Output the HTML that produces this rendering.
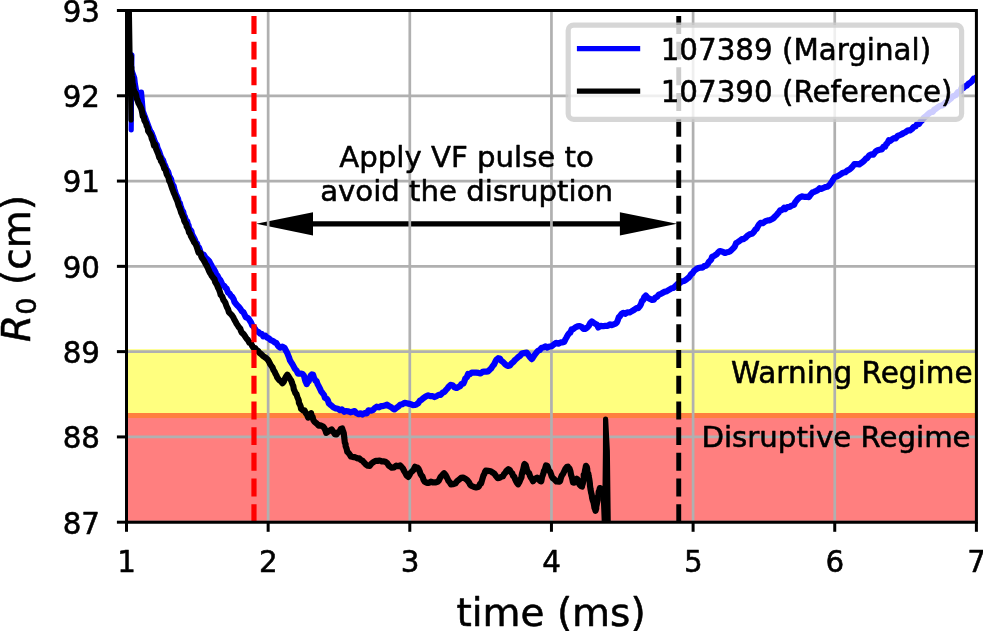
<!DOCTYPE html>
<html><head><meta charset="utf-8"><title>R0 vs time</title>
<style>
html,body{margin:0;padding:0;background:#fff;}
body{width:983px;height:631px;overflow:hidden;}
svg{display:block;font-family:"DejaVu Sans","Liberation Sans",sans-serif;}
text{fill:#000;stroke:#000;stroke-width:0.55px;stroke-linejoin:round;}
</style></head><body>
<svg width="983" height="631" viewBox="0 0 983 631">
<rect x="0" y="0" width="983" height="631" fill="#fff"/>
<defs><clipPath id="ax"><rect x="126.5" y="10.5" width="849.90" height="511.70"/></clipPath></defs>
<g clip-path="url(#ax)">
<rect x="121.5" y="349.2" width="859.90" height="68.80" fill="#ffff00" fill-opacity="0.5"/>
<rect x="121.5" y="413.0" width="859.90" height="117.00" fill="#ff0000" fill-opacity="0.5"/>
</g>
<g>
<line x1="300" y1="223.8" x2="632" y2="223.8" stroke="#000" stroke-width="5.3"/>
<polygon points="256.2,223.8 313.0,212.20000000000002 313.0,235.4" fill="#000"/>
<polygon points="677.0,223.8 619.9,212.20000000000002 619.9,235.4" fill="#000"/>
</g>
<g stroke="#b0b0b0" stroke-width="2.7" fill="none"><line x1="126.50" y1="10.5" x2="126.50" y2="522.2"/><line x1="268.15" y1="10.5" x2="268.15" y2="522.2"/><line x1="409.80" y1="10.5" x2="409.80" y2="522.2"/><line x1="551.45" y1="10.5" x2="551.45" y2="522.2"/><line x1="693.10" y1="10.5" x2="693.10" y2="522.2"/><line x1="834.75" y1="10.5" x2="834.75" y2="522.2"/><line x1="976.40" y1="10.5" x2="976.40" y2="522.2"/><line x1="126.5" y1="522.20" x2="976.4" y2="522.20"/><line x1="126.5" y1="436.92" x2="976.4" y2="436.92"/><line x1="126.5" y1="351.63" x2="976.4" y2="351.63"/><line x1="126.5" y1="266.35" x2="976.4" y2="266.35"/><line x1="126.5" y1="181.07" x2="976.4" y2="181.07"/><line x1="126.5" y1="95.78" x2="976.4" y2="95.78"/><line x1="126.5" y1="10.50" x2="976.4" y2="10.50"/></g>
<g clip-path="url(#ax)" fill="none" stroke-linejoin="round" stroke-linecap="round" stroke-width="5.2">
<path d="M126.5,80.0 L129.5,60.0 L131.9,54.8 L131.2,129.8 L131.8,70.0 L134.7,78.0 L135.4,84.0 L137.6,96.3 L139.9,103.0 L140.9,92.0 L141.5,92.0 L143.2,111.0 L151.1,132.2 L151.8,133.6 L152.4,135.3" stroke="#0000ff"/>
<path d="M151.1,132.2 L151.8,133.6 L152.4,135.3 L153.1,136.8 L154.1,139.9 L154.9,142.0 L155.8,143.8 L156.8,144.9 L157.6,148.4 L158.2,149.4 L159.3,152.0 L160.2,154.7 L160.9,156.8 L161.9,158.6 L163.0,160.3 L163.9,163.0 L164.4,164.3 L165.3,166.2 L166.2,168.6 L166.8,169.8 L168.0,171.6 L168.6,173.4 L169.2,176.1 L170.4,178.0 L171.0,179.0 L171.7,182.2 L172.6,184.7 L173.6,185.9 L174.4,189.3 L175.2,192.0 L175.6,193.3 L176.5,195.6 L177.2,197.2 L178.1,199.0 L178.7,202.4 L179.8,203.1 L180.7,206.8 L181.0,207.1 L182.1,210.5 L183.2,211.8 L183.8,215.0 L184.7,216.5 L185.5,219.2 L186.3,220.6 L187.2,221.4 L187.9,224.7 L188.5,225.1 L189.1,228.6 L190.4,229.9 L191.4,231.3 L192.0,234.3 L193.1,236.2 L194.1,238.1 L194.9,239.8 L195.9,242.7 L197.1,243.7 L197.8,246.9 L198.9,247.3 L199.8,249.8 L200.6,252.4 L202.1,254.3 L203.8,254.8 L205.3,257.4 L206.6,258.5 L208.1,259.9 L209.4,261.5 L210.4,263.6 L211.6,265.6 L212.6,268.1 L213.5,268.7 L214.8,270.9 L215.7,272.6 L216.2,275.6 L217.6,275.7 L219.0,278.7 L220.3,280.1 L221.4,282.4 L222.8,285.5 L224.1,285.8 L225.4,287.8 L226.6,288.4 L227.9,292.3 L229.6,293.7 L231.1,296.1 L232.1,296.7 L233.7,299.3 L234.5,302.0 L236.1,304.0 L237.4,305.6 L239.2,307.3 L240.4,308.9 L241.8,311.1 L243.5,312.3 L244.6,314.6 L245.8,317.2 L247.3,317.7 L248.7,318.9 L250.1,321.1 L250.9,322.2 L252.2,325.4 L253.3,326.3 L255.3,329.4 L256.6,331.1 L258.2,331.8 L260.3,333.7 L261.9,334.1 L263.3,336.4 L265.4,335.7 L267.0,337.5 L269.1,338.6 L270.8,340.2 L273.2,341.1 L274.7,342.4 L276.5,343.2 L278.0,345.8 L280.1,347.6 L282.4,346.7 L284.6,348.0 L286.4,351.5 L287.4,353.3 L288.3,355.6 L289.2,357.9 L290.0,360.5 L290.6,361.2 L291.1,362.3 L292.4,364.1 L293.6,366.4 L295.0,369.0 L296.6,370.7 L298.0,373.6 L300.7,373.6 L302.7,374.1 L303.9,375.7 L304.4,377.4 L305.4,381.2 L306.2,382.7 L306.7,384.1 L307.7,381.9 L308.7,381.3 L309.7,377.9 L310.8,375.5 L311.9,374.4 L313.1,374.8 L313.9,377.6 L315.4,380.6 L316.6,381.1 L317.6,384.2 L318.8,386.3 L319.7,388.1 L320.7,390.3 L321.3,391.5 L323.0,393.7 L324.0,394.9 L325.0,397.9 L326.9,399.0 L327.8,400.1 L328.9,403.5 L330.3,404.7 L331.4,405.5 L333.6,407.5 L335.7,408.4 L337.9,408.7 L340.0,410.2 L341.9,409.5 L344.3,411.8 L345.8,411.0 L348.3,411.3 L350.4,412.3 L352.4,411.7 L354.6,411.1 L356.3,413.0 L358.7,414.2 L360.4,413.3 L362.5,414.5 L364.4,413.2 L366.8,413.4 L368.4,410.3 L370.9,410.7 L372.9,410.1 L374.8,408.0 L376.7,406.7 L379.0,407.3 L380.9,406.2 L383.0,406.1 L385.0,405.6 L387.1,404.7 L388.8,405.9 L390.8,406.9 L392.7,408.5 L394.4,409.4 L396.2,408.1 L398.4,406.5 L400.2,404.8 L402.1,404.3 L404.5,402.8 L406.8,403.3 L408.3,403.6 L411.1,404.2 L412.7,405.1 L415.0,405.0 L416.6,404.3 L418.3,403.1 L419.9,400.5 L421.6,399.8 L423.4,398.1 L425.9,396.4 L428.2,395.4 L430.3,396.1 L432.7,396.1 L434.5,397.1 L436.9,395.9 L438.7,394.9 L440.6,394.8 L442.7,392.6 L444.5,391.8 L445.8,390.2 L447.5,388.4 L448.9,386.4 L450.5,384.9 L452.5,385.2 L454.5,387.3 L456.6,388.0 L458.6,386.8 L460.2,386.1 L461.5,384.0 L463.4,383.5 L464.4,381.2 L465.3,378.5 L466.9,377.1 L468.0,374.0 L469.6,374.5 L471.8,372.5 L473.9,372.7 L476.1,372.6 L478.5,372.9 L480.7,373.5 L482.6,371.9 L484.3,371.6 L486.3,371.7 L487.9,371.4 L490.0,369.4 L491.3,368.3 L492.5,366.2 L494.1,364.4 L495.3,361.8 L496.3,359.9 L498.2,358.2 L499.8,358.5 L501.2,360.7 L503.1,362.0 L504.9,364.0 L506.3,365.1 L508.0,365.9 L510.0,365.5 L511.6,363.3 L513.4,361.8 L515.3,359.7 L517.0,358.2 L518.6,356.7 L520.2,355.8 L521.8,353.6 L523.9,353.1 L526.7,352.6 L528.7,355.3 L530.2,357.4 L531.8,359.1 L532.8,357.8 L533.8,356.1 L535.0,354.5 L536.8,352.2 L538.1,350.6 L539.7,350.1 L541.5,347.8 L543.2,347.5 L545.6,346.4 L547.4,347.6 L549.5,346.5 L551.6,346.2 L553.8,344.6 L556.2,342.8 L558.3,343.7 L560.7,342.4 L562.8,342.3 L564.2,341.8 L565.6,339.0 L566.5,337.5 L567.6,335.4 L569.3,333.0 L570.2,332.8 L571.6,329.3 L573.2,329.1 L575.4,327.3 L577.5,326.4 L579.6,326.0 L581.8,327.0 L583.5,328.8 L585.5,328.8 L587.3,327.5 L588.7,326.0 L590.2,323.2 L591.9,321.4 L593.7,322.7 L595.6,324.0 L597.0,324.6 L598.3,327.5 L600.8,325.9 L603.1,326.2 L605.2,325.9 L607.7,325.8 L609.9,324.4 L611.6,325.2 L613.7,324.3 L615.6,323.6 L616.7,322.7 L617.7,320.5 L618.8,317.3 L619.9,316.2 L621.3,314.1 L623.2,312.8 L625.1,313.8 L627.3,312.4 L629.5,312.5 L631.5,311.4 L633.9,310.0 L636.4,308.1 L638.1,308.2 L639.7,306.3 L641.0,304.1 L642.1,300.8 L643.2,300.3 L644.3,297.1 L645.8,295.5 L648.0,298.0 L650.4,299.1 L652.1,300.0 L653.9,299.7 L655.2,297.6 L657.1,296.9 L658.8,294.7 L660.9,293.9 L662.8,292.8 L665.1,291.5 L666.8,291.3 L669.0,289.8 L671.5,288.3 L673.4,288.0 L675.7,285.9 L677.8,283.8 L680.1,282.8 L681.7,281.4 L684.1,281.0 L686.3,279.4 L688.1,278.1 L689.4,276.9 L691.1,274.3 L692.5,273.2 L693.9,271.1 L695.8,269.5 L698.1,268.1 L700.0,267.7 L702.4,267.7 L704.2,266.1 L706.0,265.7 L707.7,264.1 L708.7,262.1 L710.1,260.8 L711.2,259.5 L712.1,256.8 L714.5,255.7 L716.8,254.2 L718.2,252.4 L719.9,251.0 L722.6,251.7 L724.9,253.0 L726.8,252.3 L728.5,252.0 L730.4,251.1 L732.4,249.1 L733.3,248.2 L734.7,246.6 L736.1,243.2 L737.2,242.5 L739.3,241.1 L741.8,239.2 L743.7,239.1 L745.1,238.1 L746.4,236.9 L747.8,235.4 L750.2,234.1 L752.0,233.8 L754.2,231.5 L755.3,229.7 L756.5,228.9 L757.7,226.7 L759.1,224.4 L760.6,222.8 L762.7,223.2 L765.4,221.2 L767.9,220.4 L769.6,220.4 L771.3,219.4 L773.1,218.5 L775.0,216.5 L776.5,215.1 L777.5,213.7 L779.0,212.2 L780.1,210.4 L781.8,210.1 L784.0,207.9 L785.1,209.1 L787.4,207.1 L789.7,206.9 L791.6,205.6 L794.1,204.8 L795.1,202.4 L796.3,200.9 L798.0,198.8 L799.5,197.5 L801.7,196.4 L803.9,196.8 L806.5,196.8 L808.9,197.2 L810.4,194.8 L812.6,192.4 L814.1,191.8 L815.7,191.1 L817.8,190.1 L819.7,188.1 L821.2,189.0 L823.3,188.0 L825.3,187.1 L827.1,186.8 L828.9,185.6 L830.3,183.8 L832.0,181.5 L833.1,179.8 L834.6,177.2 L836.8,176.6 L838.9,175.4 L841.1,174.0 L842.8,172.7 L845.2,172.3 L847.2,170.6 L849.5,169.5 L850.9,168.2 L852.6,166.5 L854.4,164.1 L856.6,164.0 L859.3,164.3 L861.7,162.7 L863.5,161.3 L864.8,160.0 L866.2,158.3 L867.1,158.3 L869.1,155.5 L871.1,154.4 L873.3,154.7 L875.6,151.5 L877.7,150.3 L879.7,149.7 L881.8,149.5 L883.4,146.7 L885.1,146.7 L886.2,144.1 L887.4,143.3 L888.8,140.2 L890.5,140.8 L891.7,139.7 L894.0,138.2 L895.7,138.4 L897.8,135.7 L899.5,135.3 L901.2,134.5 L903.6,133.0 L905.7,132.1 L908.1,130.3 L910.0,130.3 L912.0,129.0 L913.6,127.0 L915.5,126.4 L916.8,124.5 L919.0,123.9 L920.6,121.6 L922.3,120.1 L923.9,117.8 L925.7,116.4 L927.7,114.5 L929.3,113.1 L931.0,112.0 L932.6,112.0 L934.3,109.6 L935.7,108.9 L937.7,107.3 L939.7,106.0 L941.9,105.5 L943.9,104.3 L945.7,102.4 L947.6,101.2 L949.2,99.7 L951.2,98.2 L952.9,96.3 L954.6,95.6 L956.0,94.9 L957.8,92.2 L960.3,91.3 L961.6,87.9 L963.3,88.1 L964.8,86.6 L966.9,85.5 L968.5,83.7 L970.2,82.8 L971.9,81.3 L973.7,78.7 L975.3,78.9 L977.3,76.7 L979.2,76.2 L981.3,75.2 L982.8,72.4 L985.5,71.8 L987.0,70.0" stroke="#0000ff" stroke-width="6.2"/>
<path d="M126.5,70.0 L129.0,-12.0 L131.0,120.0 L130.6,56.0 L130.9,57.9 L130.9,59.5" stroke="#000"/>
<path d="M130.6,56.0 L130.9,57.9 L130.9,59.5 L130.8,62.3 L131.0,66.0 L131.3,67.5 L131.3,70.6 L131.3,72.5 L131.6,74.1 L131.7,75.8 L132.1,77.8 L132.4,80.8 L132.5,83.0 L133.0,85.0 L133.4,87.8 L133.7,89.4 L134.3,91.5 L135.5,93.2 L136.1,95.1 L136.7,98.5 L137.7,100.6 L138.4,103.0 L139.2,104.2 L140.2,106.3 L141.4,109.0 L141.7,110.2 L142.2,112.6 L142.8,116.2 L143.9,117.0 L144.3,120.2 L145.3,122.0 L146.1,123.4 L146.7,126.0 L147.8,127.8 L148.1,131.0 L149.5,133.0 L150.1,133.9 L151.2,135.9 L151.7,138.4 L152.5,140.2 L153.3,142.3 L154.0,145.7 L155.1,144.6 L156.0,148.6 L156.8,150.6 L157.8,152.9 L158.4,154.5 L159.3,157.7 L160.4,157.9 L160.9,161.1 L161.9,162.0 L162.6,164.1 L163.5,165.7 L164.3,168.8 L165.3,169.2 L166.1,171.9 L166.8,174.5 L167.6,175.8 L168.5,177.4 L169.2,180.9 L170.0,182.2 L170.7,184.0 L171.5,186.4 L172.2,188.7 L173.3,191.4 L173.7,192.6 L175.0,195.3 L175.5,197.0 L176.5,199.2 L177.4,201.2 L178.1,203.7 L178.8,206.1 L179.5,207.4 L180.5,210.2 L181.1,212.5 L182.2,214.6 L182.7,216.3 L183.7,218.1 L184.2,220.6 L185.1,222.5 L186.2,223.8 L186.7,226.6 L187.7,228.1 L188.4,229.7 L189.0,232.4 L190.4,234.2 L191.0,236.3 L192.1,238.2 L193.3,240.4 L194.1,242.3 L195.4,243.8 L196.3,245.6 L197.2,248.3 L198.1,251.2 L198.7,252.8 L200.4,252.8 L201.3,256.5 L202.1,258.1 L203.3,259.7 L204.6,261.9 L205.7,264.1 L206.8,265.8 L208.0,268.3 L209.0,270.9 L210.0,273.0 L210.9,274.2 L211.7,275.8 L212.8,277.2 L213.3,278.2 L214.5,279.2 L215.1,281.8 L216.4,284.0 L217.1,285.1 L218.1,287.8 L218.9,289.1 L220.1,292.5 L220.7,294.9 L221.7,295.9 L222.4,297.0 L223.5,300.1 L224.6,301.5 L225.4,302.9 L226.2,305.4 L227.1,307.5 L228.1,309.3 L228.9,312.1 L230.3,313.6 L231.6,314.9 L232.9,316.7 L233.9,318.7 L235.4,321.4 L236.6,323.7 L237.5,325.0 L238.8,327.2 L240.1,328.3 L240.9,330.8 L241.9,332.7 L243.2,333.7 L244.2,335.0 L245.4,336.8 L246.6,338.7 L247.9,339.9 L249.4,342.8 L250.9,342.8 L252.1,345.8 L253.3,347.6 L255.3,348.3 L256.9,350.6 L258.0,350.8 L259.6,353.0 L261.2,354.1 L263.2,356.2 L264.7,357.1 L266.2,358.1 L267.8,359.7 L269.0,361.7 L270.4,364.5 L271.7,366.3 L272.4,367.2 L273.6,370.3 L274.6,371.7 L275.4,373.7 L276.5,375.5 L277.2,377.4 L279.3,380.3 L280.7,381.0 L282.5,383.2 L283.9,381.5 L284.7,379.1 L286.2,376.3 L287.4,374.7 L288.8,376.8 L290.1,378.9 L291.3,380.7 L291.8,382.3 L292.5,384.3 L293.3,386.0 L293.8,389.2 L294.8,391.5 L295.4,393.3 L296.4,393.9 L297.3,396.9 L298.2,398.9 L298.8,400.7 L298.9,402.7 L300.2,405.2 L300.7,406.6 L301.1,408.9 L302.9,410.3 L304.5,410.4 L305.7,413.0 L307.0,414.6 L308.2,417.6 L309.5,414.7 L311.1,413.2 L311.6,416.0 L312.6,416.9 L313.4,420.2 L314.6,421.8 L316.7,423.5 L318.7,425.7 L320.5,425.4 L323.2,426.6 L324.5,428.4 L325.6,430.8 L326.2,432.8 L329.2,430.9 L331.6,429.5 L332.9,431.2 L334.8,434.2 L336.4,434.5 L337.6,432.6 L339.3,431.8 L340.8,428.9 L342.2,428.5 L342.6,430.1 L343.1,431.2 L343.8,433.5 L344.2,436.9 L344.3,438.2 L344.6,440.6 L344.8,442.5 L345.6,444.3 L345.6,446.1 L346.6,448.6 L347.3,451.8 L348.5,452.9 L349.8,454.6 L351.0,456.6 L353.1,457.1 L355.0,457.2 L357.6,458.4 L359.3,458.3 L361.0,460.1 L362.9,461.1 L364.2,462.7 L365.8,464.4 L367.7,465.7 L369.7,465.8 L371.4,463.6 L373.5,462.0 L375.9,460.8 L377.7,460.9 L379.8,460.5 L381.7,461.3 L384.0,461.4 L385.4,461.8 L387.4,463.3 L388.8,465.6 L390.4,466.7 L391.7,467.6 L394.1,467.3 L396.2,465.6 L397.9,466.2 L400.1,465.5 L401.6,467.0 L402.9,468.5 L404.4,471.5 L405.6,473.5 L406.7,475.6 L408.3,476.9 L409.7,474.6 L410.8,472.5 L412.3,471.2 L413.7,469.6 L415.0,466.8 L416.5,467.5 L417.4,467.5 L418.5,468.8 L419.8,471.6 L420.6,474.1 L421.5,475.4 L422.5,476.6 L423.6,480.0 L424.5,481.5 L426.8,482.8 L429.0,482.8 L430.9,481.7 L433.2,482.5 L435.3,482.4 L437.6,481.8 L438.9,480.5 L440.2,477.7 L441.3,476.2 L442.8,474.5 L444.1,473.2 L445.4,474.7 L446.5,476.8 L447.7,479.1 L448.4,480.8 L449.8,482.4 L451.0,484.4 L452.8,484.2 L455.5,483.3 L457.1,481.2 L459.4,479.3 L461.1,477.9 L463.1,477.6 L465.0,478.5 L467.1,480.0 L468.9,482.2 L470.1,484.7 L471.8,486.0 L474.1,487.0 L476.1,487.4 L478.1,487.0 L479.1,486.0 L480.2,483.7 L481.1,483.5 L482.1,480.0 L482.8,477.7 L483.4,475.6 L484.3,474.0 L485.0,471.9 L485.8,470.6 L488.2,470.9 L490.8,471.3 L492.7,472.6 L494.7,474.1 L495.8,475.8 L497.8,478.1 L499.4,478.0 L501.1,476.9 L502.8,476.4 L504.0,474.2 L505.5,472.6 L506.6,470.6 L508.4,469.2 L509.8,469.9 L510.7,472.0 L512.2,473.3 L513.1,475.9 L514.3,476.8 L515.2,479.4 L516.0,481.0 L517.1,483.1 L518.1,484.3 L519.4,482.0 L520.2,480.1 L521.5,477.2 L521.7,475.0 L522.3,472.6 L523.1,469.9 L523.6,467.7 L524.2,464.8 L524.6,464.1 L525.8,465.2 L526.0,466.3 L527.0,469.7 L527.8,472.2 L529.1,473.1 L530.0,475.9 L530.9,477.6 L531.9,478.9 L533.0,481.2 L535.0,479.0 L537.1,477.7 L538.2,478.6 L540.0,480.9 L541.2,481.4 L541.7,478.9 L542.0,477.0 L542.8,475.1 L543.5,473.1 L544.0,470.7 L544.8,469.8 L545.6,466.8 L546.0,465.5 L547.3,466.0 L547.8,467.2 L548.7,470.2 L550.2,471.9 L551.0,474.0 L551.8,476.6 L552.9,478.2 L554.1,479.1 L556.5,481.5 L559.2,481.7 L560.1,481.1 L560.8,478.2 L561.8,475.5 L563.1,473.7 L563.9,472.0 L565.4,468.9 L566.8,467.0 L567.9,466.6 L568.5,468.4 L569.4,468.4 L570.4,471.2 L571.1,475.1 L571.8,477.0 L572.3,479.0 L573.0,482.5 L574.1,482.7 L575.3,481.1 L576.8,478.8 L578.0,480.0 L579.4,484.4 L580.8,485.9 L582.0,486.5 L582.1,485.4 L582.8,483.6 L583.3,480.6 L583.9,478.6 L583.7,474.8 L584.5,473.7 L585.1,469.9 L585.6,467.9 L585.9,465.9 L586.7,466.8 L587.2,469.0 L587.4,472.1 L588.3,473.8 L588.7,476.5 L589.3,479.4 L589.5,480.8 L589.9,483.8 L590.0,485.8 L590.5,489.1 L590.8,490.7 L591.2,492.9 L591.7,494.7 L592.2,498.2 L592.8,500.5 L593.6,502.7 L594.0,504.8 L594.5,507.9 L594.9,508.4 L595.5,510.8 L596.2,508.6 L596.2,506.9 L596.9,503.7 L597.3,501.9 L597.8,499.8 L597.9,496.5 L598.5,495.2 L598.7,491.8 L599.2,490.7 L599.9,488.1 L601.7,488.9 L603.1,490.3" stroke="#000" stroke-width="6.2"/>
<path d="M601.7,488.9 L603.1,490.3 L604.6,530.0 L605.5,451.0 L605.6,419.2 L607.3,451.0 L608.3,530.0" stroke="#000"/>
</g>
<g clip-path="url(#ax)" fill="none" stroke-width="5.2" stroke-dasharray="17.95 7.75">
<line x1="253.98" y1="522.2" x2="253.98" y2="10.5" stroke="#ff0000"/>
<line x1="678.74" y1="522.2" x2="678.74" y2="10.5" stroke="#000" stroke-width="4.9"/>
</g>
<g stroke="#000" stroke-width="3.0" fill="none"><line x1="126.50" y1="522.2" x2="126.50" y2="531.80"/><line x1="268.15" y1="522.2" x2="268.15" y2="531.80"/><line x1="409.80" y1="522.2" x2="409.80" y2="531.80"/><line x1="551.45" y1="522.2" x2="551.45" y2="531.80"/><line x1="693.10" y1="522.2" x2="693.10" y2="531.80"/><line x1="834.75" y1="522.2" x2="834.75" y2="531.80"/><line x1="976.40" y1="522.2" x2="976.40" y2="531.80"/><line x1="126.5" y1="522.20" x2="116.90" y2="522.20"/><line x1="126.5" y1="436.92" x2="116.90" y2="436.92"/><line x1="126.5" y1="351.63" x2="116.90" y2="351.63"/><line x1="126.5" y1="266.35" x2="116.90" y2="266.35"/><line x1="126.5" y1="181.07" x2="116.90" y2="181.07"/><line x1="126.5" y1="95.78" x2="116.90" y2="95.78"/><line x1="126.5" y1="10.50" x2="116.90" y2="10.50"/></g>
<rect x="126.5" y="10.5" width="849.90" height="511.70" fill="none" stroke="#000" stroke-width="3.0" stroke-linejoin="miter"/>
<g font-size="29.33px"><text x="126.70" y="571.6" text-anchor="middle">1</text><text x="268.35" y="571.6" text-anchor="middle">2</text><text x="410.00" y="571.6" text-anchor="middle">3</text><text x="551.65" y="571.6" text-anchor="middle">4</text><text x="693.30" y="571.6" text-anchor="middle">5</text><text x="834.95" y="571.6" text-anchor="middle">6</text><text x="976.60" y="571.6" text-anchor="middle">7</text><text x="100.0" y="533.60" text-anchor="end">87</text><text x="100.0" y="448.32" text-anchor="end">88</text><text x="100.0" y="363.03" text-anchor="end">89</text><text x="100.0" y="277.75" text-anchor="end">90</text><text x="100.0" y="192.47" text-anchor="end">91</text><text x="100.0" y="107.18" text-anchor="end">92</text><text x="100.0" y="21.90" text-anchor="end">93</text></g>
<text x="551.0" y="625.9" font-size="39.0px" text-anchor="middle">time (ms)</text>
<text transform="translate(30.0,341.9) rotate(-90)" font-size="39.0px"><tspan font-style="italic">R</tspan><tspan font-size="27.30px" dy="5.8">0</tspan><tspan dy="-5.8"> (cm)</tspan></text>
<g font-size="29.33px">
<text x="466.6" y="166.7" font-size="29.2px" text-anchor="middle">Apply VF pulse to</text>
<text x="466.6" y="200.9" font-size="29.2px" text-anchor="middle">avoid the disruption</text>
<text x="972.6" y="383.3" font-size="29.47px" text-anchor="end">Warning Regime</text>
<text x="970.6" y="447.3" font-size="29.23px" text-anchor="end">Disruptive Regime</text>
</g>
<g>
<rect x="568.2" y="25.1" width="393.4" height="94.2" rx="5.5" ry="5.5" fill="#fff" fill-opacity="0.8" stroke="#cccccc" stroke-opacity="0.8" stroke-width="5.2"/>
<line x1="576.9" y1="48.6" x2="640.2" y2="48.6" stroke="#0000ff" stroke-width="5.2"/>
<line x1="576.9" y1="91.1" x2="640.2" y2="91.1" stroke="#000" stroke-width="5.2"/>
<g font-size="29.33px">
<text x="660.7" y="59.9">107389 (Marginal)</text>
<text x="660.7" y="102.4">107390 (Reference)</text>
</g>
</g>
</svg>
</body></html>
